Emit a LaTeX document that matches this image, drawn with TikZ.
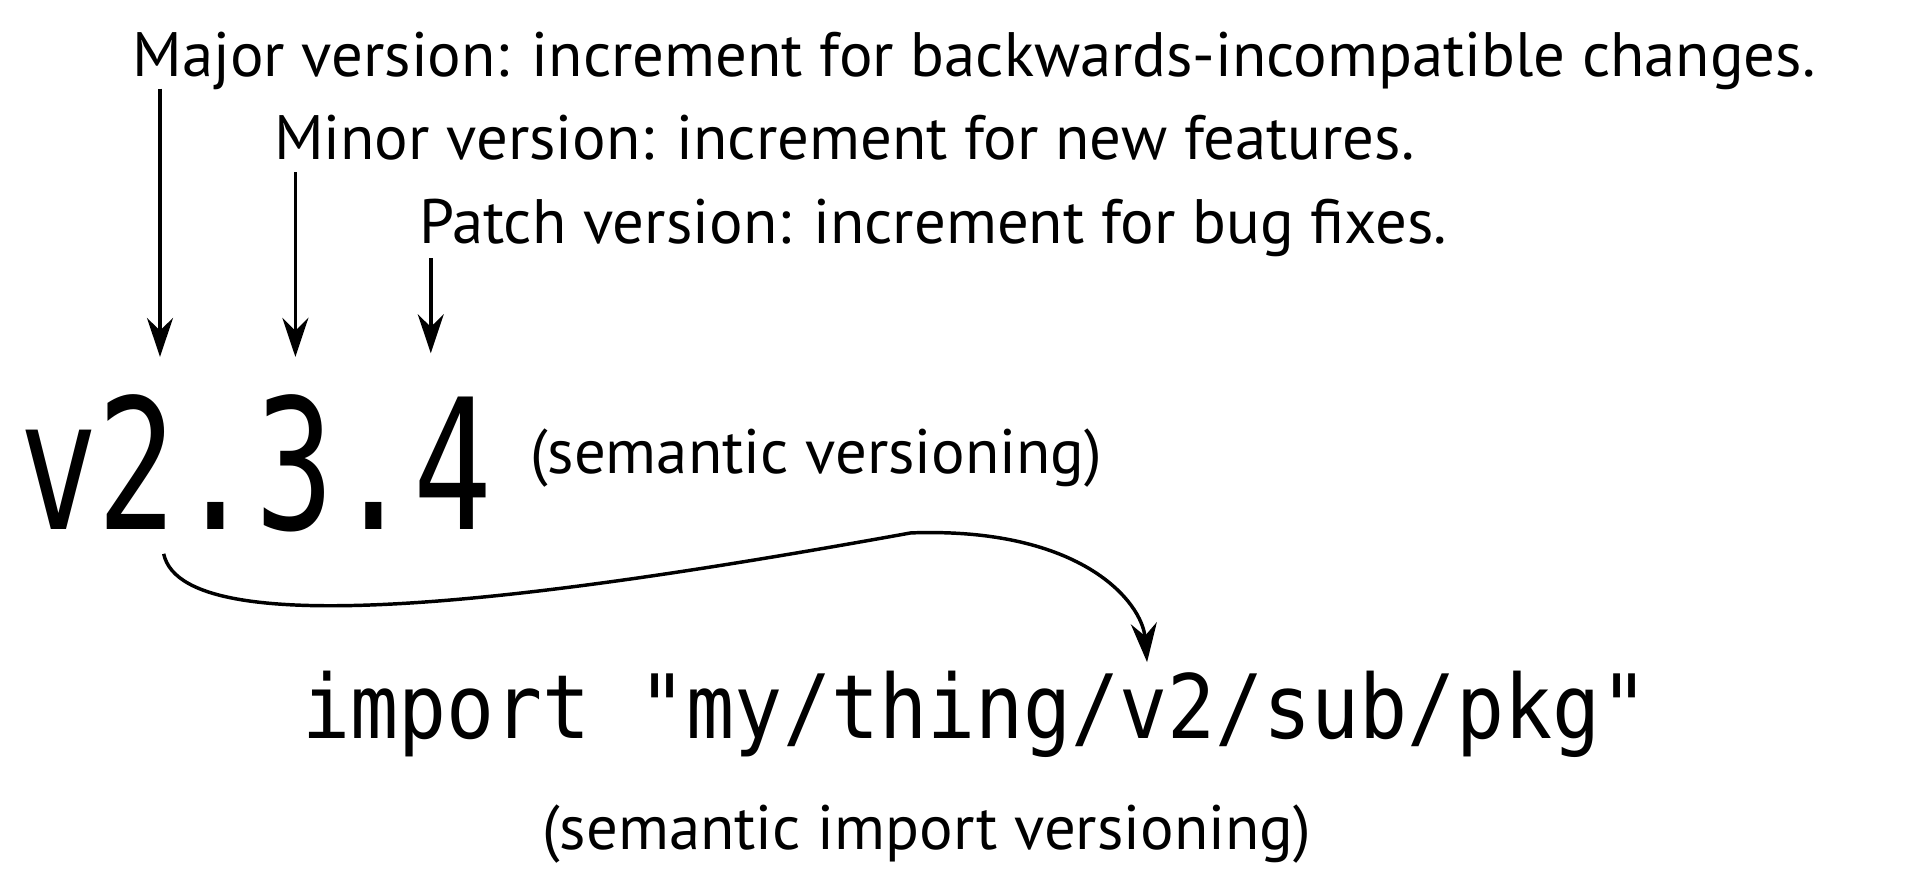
\documentclass[tikz,border=0pt]{standalone}
\usepackage{fontspec}
\setmainfont{PT Sans}
\newfontfamily\codefont{DejaVu Sans Mono}
\usetikzlibrary{positioning,arrows.meta}
\begin{document}
\begin{tikzpicture}[x=0.01cm,y=-0.01cm,
        label/.style={anchor=base west, inner sep=0pt, font=\fontsize{14.5}{17}\selectfont},
        code/.style={anchor=base west, inner sep=0pt, font=\codefont},
        arr/.style={thick, -{Stealth[length=9pt,width=6pt]}}
    ]
    \useasboundingbox (0,0) rectangle (1560,725);

    % Descriptions
    \node[label] (major) at (107,62) {Major version: increment for backwards-incompatible changes.};
    \node[label] (minor) at (222,130) {Minor version: increment for new features.};
    \node[label] (patch) at (340,198) {Patch version: increment for bug fixes.};

    % Version number
    \node[code, font=\codefont\fontsize{42}{44}\selectfont, xscale=0.72] (ver) at (15,430) {v2.3.4};
    \node[label] (semver) at (430,385) {(semantic versioning)};

    % Import path
    \node[code, font=\codefont\fontsize{20.5}{24}\selectfont, xscale=0.9] (imp) at (245,600) {import "my/thing/v2/sub/pkg"};
    \node[label] (semimp) at (440,690) {(semantic import versioning)};

    % Arrows to the digits
    \coordinate (a1) at (130,72);   \coordinate (b1) at (130,290);
    \coordinate (a2) at (240,140);  \coordinate (b2) at (240,290);
    \coordinate (a3) at (350,210);  \coordinate (b3) at (350,287);
    \draw[arr] (a1) -- (b1);
    \draw[arr] (a2) -- (b2);
    \draw[arr] (a3) -- (b3);

    % Major version goes into the path
    \coordinate (c0) at (133,450);
    \coordinate (c1) at (932,538);
    \draw[arr] (c0) .. controls (150,530) and (480,480) .. (740,433)
        .. controls (880,428) and (928,490) .. (c1);
\end{tikzpicture}
\end{document}
